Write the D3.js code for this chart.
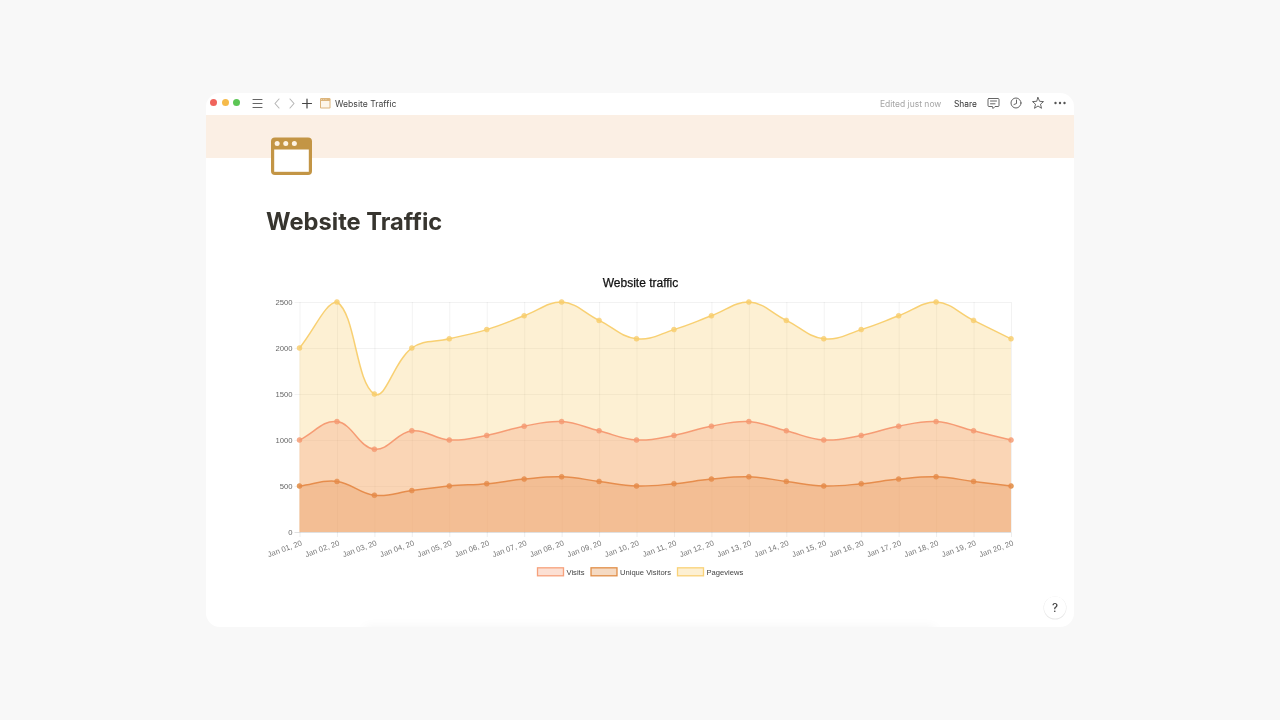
<!DOCTYPE html>
<html>
<head>
<meta charset="utf-8">
<title>Website Traffic</title>
<script src="https://cdn.jsdelivr.net/npm/d3@7"></script>
<style>
  html, body { margin: 0; padding: 0; background: #f8f8f8; }
  svg { display: block; filter: blur(0.3px); }
  .ui { font-family: Inter, "Noto Sans", sans-serif; }
  .chart-text { font-family: "Liberation Sans", Arial, sans-serif; }
</style>
</head>
<body>
<svg id="chart" width="1280" height="720"></svg>
<script>
const dates = ["Jan 01, 20", "Jan 02, 20", "Jan 03, 20", "Jan 04, 20", "Jan 05, 20", "Jan 06, 20", "Jan 07, 20",
  "Jan 08, 20", "Jan 09, 20", "Jan 10, 20", "Jan 11, 20", "Jan 12, 20", "Jan 13, 20", "Jan 14, 20",
  "Jan 15, 20", "Jan 16, 20", "Jan 17, 20", "Jan 18, 20", "Jan 19, 20", "Jan 20, 20"];
const visits = [1000, 1200, 900, 1100, 1000, 1050, 1150, 1200, 1100, 1000, 1050, 1150, 1200, 1100, 1000, 1050, 1150, 1200, 1100, 1000];
const uniqueVisitors = [500, 550, 400, 450, 500, 525, 575, 600, 550, 500, 525, 575, 600, 550, 500, 525, 575, 600, 550, 500];
const pageviews = [2000, 2500, 1500, 2000, 2100, 2200, 2350, 2500, 2300, 2100, 2200, 2350, 2500, 2300, 2100, 2200, 2350, 2500, 2300, 2100];
const yTicks = [0, 500, 1000, 1500, 2000, 2500];

const seriesNames = ["Visits", "Unique Visitors", "Pageviews"];
const seriesValues = [visits, uniqueVisitors, pageviews];
const seriesRgb = ["245,152,112", "222,132,55", "248,205,108"];

const svg = d3.select("#chart");

// page chrome
const defs = svg.append("defs");
defs.append("filter").attr("id", "soft").attr("x", "-20%").attr("y", "-200%").attr("width", "140%").attr("height", "500%")
  .append("feGaussianBlur").attr("stdDeviation", 6);
defs.append("clipPath").attr("id", "card-clip")
  .append("rect").attr("x", 206).attr("y", 93).attr("width", 868).attr("height", 534).attr("rx", 14);

svg.append("rect").attr("x", 206).attr("y", 93).attr("width", 868).attr("height", 534).attr("rx", 14).attr("fill", "#fff");
svg.append("rect").attr("x", 206).attr("y", 115).attr("width", 868).attr("height", 43)
  .attr("fill", "#fbefe4").attr("clip-path", "url(#card-clip)");
// soft shadow at the foot of the card, stays inside it
svg.append("g").attr("clip-path", "url(#card-clip)")
  .append("rect").attr("x", 365).attr("y", 627).attr("width", 570).attr("height", 14)
  .attr("fill", "#000").attr("opacity", 0.045).attr("filter", "url(#soft)");

// window buttons
const dots = [[213.5, "#f0645c"], [225.5, "#f6bb4b"], [236.5, "#5cc655"]];
svg.selectAll(".win-dot").data(dots).join("circle").attr("class", "win-dot")
  .attr("cx", d => d[0]).attr("cy", 102.5).attr("r", 3.5).attr("fill", d => d[1]);

const iconStroke = (sel, color, w) => sel.attr("fill", "none").attr("stroke", color).attr("stroke-width", w)
  .attr("stroke-linecap", "round").attr("stroke-linejoin", "round");

iconStroke(svg.append("path").attr("d", "M253 99.5H262M253 103.5H262M253 107.5H262"), "#666", 1.1);
iconStroke(svg.append("path").attr("d", "M279 99L275 103.5L279 108"), "#b5b5b5", 1.1);
iconStroke(svg.append("path").attr("d", "M290 99L294 103.5L290 108"), "#b5b5b5", 1.1);
iconStroke(svg.append("path").attr("d", "M307 99V108M302.500 103.500H311.500"), "#444", 1.2);

// page icon, used small in the toolbar and large over the cover
function pageIcon(px, py, w, h, r, band, side, body, dotR) {
  const g = svg.append("g");
  g.append("rect").attr("x", px).attr("y", py).attr("width", w).attr("height", h).attr("rx", r).attr("fill", side.color);
  g.append("rect").attr("x", px + side.w).attr("y", py + band).attr("width", w - 2 * side.w)
    .attr("height", h - band - side.w).attr("fill", body);
  [0.15, 0.36, 0.57].forEach(f => g.append("circle").attr("cx", px + w * f).attr("cy", py + band / 2).attr("r", dotR).attr("fill", "#fdf3e4"));
}
pageIcon(320, 98, 10.500, 10.500, 1.2, 3, { color: "#dcb57c", w: 1 }, "#fdf6ea", 0.4);
pageIcon(271, 137.500, 41, 37.500, 4, 12, { color: "#c39545", w: 3.200 }, "#fff", 2.500);

svg.append("text").attr("class", "ui").attr("x", 335).attr("y", 106.800).attr("font-size", 8.650).attr("fill", "#444").text("Website Traffic");
svg.append("text").attr("class", "ui").attr("x", 880).attr("y", 106.500).attr("font-size", 8.500).attr("fill", "#a5a5a5").text("Edited just now");
svg.append("text").attr("class", "ui").attr("x", 954).attr("y", 106.800).attr("font-size", 8.400).attr("fill", "#333").text("Share");

// right toolbar icons
iconStroke(svg.append("path").attr("d", "M989 98.500H998Q999 98.500 999 99.500V105.500Q999 106.500 998 106.500H995L993 108.500L992.500 106.500H989Q988 106.500 988 105.500V99.500Q988 98.500 989 98.500ZM990.500 101H996.500M990.500 103.800H995"), "#555", 0.9);
iconStroke(svg.append("circle").attr("cx", 1016).attr("cy", 103).attr("r", 5), "#555", 0.9);
iconStroke(svg.append("path").attr("d", "M1016.500 100V103.500L1014 104.500"), "#555", 0.9);
iconStroke(svg.append("path").attr("d", "M1038 97.500L1039.600 101.300L1043.500 101.600L1040.500 104.200L1041.500 108.300L1038 106L1034.500 108.300L1035.500 104.200L1032.500 101.600L1036.400 101.300Z"), "#555", 0.9);
svg.selectAll(".more-dot").data([1055.5, 1060, 1064.5]).join("circle").attr("class", "more-dot")
  .attr("cx", d => d).attr("cy", 103).attr("r", 1.2).attr("fill", "#555");

svg.append("text").attr("class", "ui").attr("x", 266).attr("y", 230).attr("font-size", 23.700).attr("font-weight", 700)
  .attr("fill", "#37352f").text("Website Traffic");

// help button
svg.append("circle").attr("cx", 1055).attr("cy", 608).attr("r", 11.500).attr("fill", "#e9e9e9");
svg.append("circle").attr("cx", 1055).attr("cy", 607.500).attr("r", 11).attr("fill", "#fff");
svg.append("text").attr("class", "ui").attr("x", 1055).attr("y", 611.500).attr("text-anchor", "middle")
  .attr("font-size", 11.500).attr("font-weight", 500).attr("fill", "#444").text("?");

// chart
const x = d3.scalePoint().domain(dates).range([299.500, 1011]);
const y = d3.scaleLinear().domain([0, 2500]).range([532, 302]);

svg.append("text").attr("class", "chart-text").attr("x", 640.500).attr("y", 287).attr("text-anchor", "middle")
  .attr("font-size", 12).attr("fill", "#111").attr("stroke", "#111").attr("stroke-width", 0.25).text("Website traffic");

const xAxis = svg.append("g").attr("class", "chart-text").attr("transform", "translate(0,532)")
  .call(d3.axisBottom(x).tickSize(-230).tickPadding(0));
xAxis.select(".domain").remove();
xAxis.selectAll(".tick line").attr("stroke", "rgba(0,0,0,0.05)").attr("y2", -230);
xAxis.selectAll(".tick").append("line").attr("y1", 0).attr("y2", 5).attr("stroke", "rgba(0,0,0,0.07)");
xAxis.selectAll(".tick text")
  .attr("font-size", 7.700).attr("fill", "#777").attr("text-anchor", "end")
  .attr("transform", "translate(2.500,13) rotate(-20)").attr("dy", 0).attr("y", 0);

const yAxis = svg.append("g").attr("class", "chart-text").attr("transform", "translate(299.500,0)")
  .call(d3.axisLeft(y).tickValues(yTicks).tickSize(5).tickPadding(2).tickFormat(d3.format("d")));
yAxis.select(".domain").remove();
yAxis.selectAll(".tick line").attr("stroke", d => d === 0 ? "rgba(0,0,0,0.12)" : "rgba(0,0,0,0.05)").attr("x2", 711.500).attr("x1", -5);
yAxis.selectAll(".tick text").attr("font-size", 7.700).attr("fill", "#666");

// spline like Chart.js: control points scaled by distance to the neighbours,
// then held inside the plot area (that is what makes the 2500 peaks pointed)
function splineCurve(context) {
  const tension = 0.4;
  const capY = v => Math.max(y.range()[1], Math.min(y.range()[0], v));
  let pts = [];
  return {
    areaStart() {},
    areaEnd() {},
    lineStart() { pts = []; },
    point(px, py) { pts.push([+px, +py]); },
    lineEnd() {
      const ctrl = pts.map((p, i) => {
        const prev = pts[i - 1] || p, next = pts[i + 1] || p;
        const d01 = Math.hypot(p[0] - prev[0], p[1] - prev[1]);
        const d12 = Math.hypot(next[0] - p[0], next[1] - p[1]);
        const fa = tension * d01 / (d01 + d12), fb = tension * d12 / (d01 + d12);
        return {
          before: [p[0] - fa * (next[0] - prev[0]), capY(p[1] - fa * (next[1] - prev[1]))],
          after: [p[0] + fb * (next[0] - prev[0]), capY(p[1] + fb * (next[1] - prev[1]))]
        };
      });
      context.moveTo(pts[0][0], pts[0][1]);
      for (let i = 1; i < pts.length; i++) {
        context.bezierCurveTo(ctrl[i - 1].after[0], ctrl[i - 1].after[1], ctrl[i].before[0], ctrl[i].before[1], pts[i][0], pts[i][1]);
      }
    }
  };
}
const line = d3.line().x((d, i) => x(dates[i])).y(d => y(d)).curve(splineCurve);

// first dataset sits on top, so go backwards through the series
[2, 1, 0].forEach(k => {
  const vals = seriesValues[k];
  const g = svg.append("g").attr("class", "series");
  const top = line(vals);
  g.append("path")
    .attr("d", `${top}L${x(dates[dates.length - 1])},${y(0)}L${x(dates[0])},${y(0)}Z`)
    .attr("fill", `rgba(${seriesRgb[k]},0.3)`);
  g.append("path").attr("d", top).attr("fill", "none").attr("stroke", `rgba(${seriesRgb[k]},0.95)`).attr("stroke-width", 1.500);
  g.selectAll("circle").data(vals).join("circle")
    .attr("cx", (d, i) => x(dates[i])).attr("cy", d => y(d)).attr("r", 2.500)
    .attr("fill", `rgba(${seriesRgb[k]},0.8)`).attr("stroke", `rgba(${seriesRgb[k]},0.9)`).attr("stroke-width", 0.5);
});

// legend
const legendX = [537.500, 591, 677.500];
const legend = svg.append("g").attr("class", "chart-text");
seriesNames.forEach((name, k) => {
  legend.append("rect").attr("x", legendX[k]).attr("y", 567.800).attr("width", 26).attr("height", 8)
    .attr("fill", `rgba(${seriesRgb[k]},0.3)`).attr("stroke", `rgba(${seriesRgb[k]},0.9)`).attr("stroke-width", 1.300);
  legend.append("text").attr("x", legendX[k] + 29).attr("y", 574.500).attr("font-size", 7.600).attr("fill", "#444").text(name);
});
</script>
</body>
</html>
